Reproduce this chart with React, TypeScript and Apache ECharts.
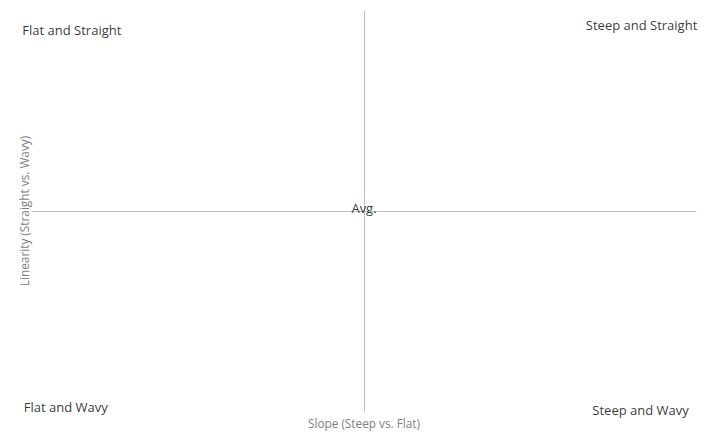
import { useEffect, useRef } from 'react'
import * as echarts from 'echarts'

// quadrant labels and where they sit in the (slope, linearity) space
const quadrantNames = ['Flat and Straight', 'Steep and Straight', 'Steep and Wavy', 'Flat and Wavy', 'Avg.']
const slopeValues = [-0.88, 0.836, 0.833, -0.898, 0]
const linearityValues = [0.905, 0.93, -0.995, -0.98, 0.015]

const xAxisName = 'Slope (Steep vs. Flat)'
const yAxisName = 'Linearity (Straight vs. Wavy)'

export default function App() {
  const chartRef = useRef<HTMLDivElement>(null)

  useEffect(() => {
    if (!chartRef.current) return
    const chart = echarts.init(chartRef.current, undefined, { renderer: 'svg' })

    const axisCommon = {
      type: 'value',
      min: -1,
      max: 1,
      axisLine: { show: true, onZero: true, lineStyle: { color: '#bfbfbf', width: 1 } },
      axisTick: { show: false },
      axisLabel: { show: false },
      splitLine: { show: false },
      nameLocation: 'middle',
      nameTextStyle: { color: '#7f7f7f', fontSize: 11.8, fontFamily: 'Open Sans' },
    }

    chart.setOption({
      animation: false,
      textStyle: { fontFamily: 'Open Sans' },
      grid: { left: 32, right: 13, top: 11, bottom: 30 },
      xAxis: {
        ...axisCommon,
        name: xAxisName,
        nameGap: 6,
      },
      yAxis: {
        ...axisCommon,
        name: yAxisName,
        nameGap: 2,
      },
      series: [
        {
          type: 'scatter',
          symbolSize: 0,
          data: quadrantNames.map((n, i) => ({ name: n, value: [slopeValues[i], linearityValues[i]] })),
          label: {
            show: true,
            position: 'inside',
            formatter: '{b}',
            color: '#000',
            fontSize: 13,
            fontFamily: 'Open Sans',
          },
          emphasis: { disabled: true },
        },
      ],
    })

    return () => chart.dispose()
  }, [])

  return <div ref={chartRef} style={{ width: 709, height: 441, margin: -8 }} />
}
